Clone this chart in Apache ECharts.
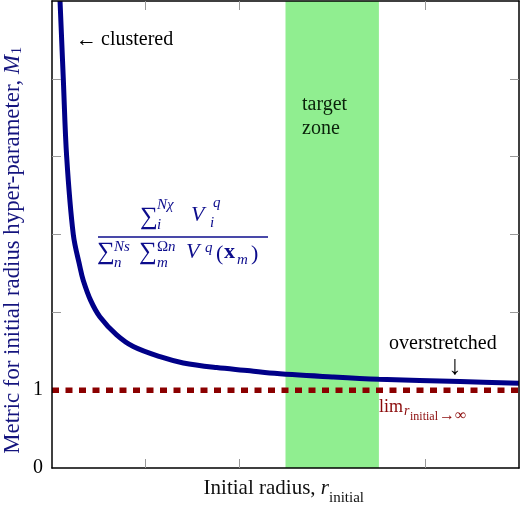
<!DOCTYPE html>
<html>
<head>
<meta charset="utf-8">
<script src="https://cdn.jsdelivr.net/npm/echarts@6/dist/echarts.min.js"></script>
<style>html,body{margin:0;padding:0;background:#fff;}#c{width:520px;height:508px;}</style>
</head>
<body>
<div id="c"></div>
<script>
// ---- data ----
const radius = [0.086, 0.121, 0.157, 0.228, 0.30, 0.335, 0.415, 0.514, 0.692, 0.87, 1.156, 1.406, 1.763, 2.12, 2.33, 3.0, 3.5, 4.37, 5.0];
const metric = [6.0, 5.0, 4.0, 3.0, 2.58, 2.41, 2.15, 1.94, 1.71, 1.56, 1.43, 1.35, 1.29, 1.25, 1.22, 1.17, 1.14, 1.11, 1.09];
const limitValue = 1;
const targetZone = [2.5, 3.5];
const xRange = [0, 5];
const yRange = [0, 6];
const xTickValues = [1, 2, 4];
const yTickValues = [2, 3, 4, 5];
const yLabelValues = [0, 1];

const SERIF = 'Liberation Serif';
const BLUE = '#000088';
const NAVY = '#14147e';
const RED = '#8b0000';
const GREEN = '#90ee90';

const curveData = radius.map((r, i) => [r, metric[i]]);
const limitData = [[xRange[0], limitValue], [xRange[1], limitValue]];

function txt(x, base, s, size, o) {
  o = o || {};
  return {
    type: 'text', x: x, y: base - 0.34 * size, z: 100,
    style: {
      text: s, fontFamily: SERIF, fontSize: size,
      fontStyle: o.it ? 'italic' : 'normal',
      fontWeight: o.b ? 'bold' : 'normal',
      fill: o.c || '#000', align: o.a || 'left', verticalAlign: 'middle'
    }
  };
}

const F = '#0c0c8c';
const LR = '#8b0a0a';
const graphics = [
  // annotations
  txt(76, 48, '←', 21),
  txt(101, 47, 'clustered', 20),
  txt(302, 112, 'target', 20, {c: '#0a220a'}),
  txt(302, 136, 'zone', 20, {c: '#0a220a'}),
  txt(389, 351, 'overstretched', 20),
  txt(455, 376, '↓', 27, {a: 'center'}),
  txt(379, 413, 'lim', 18, {c: LR}),
  txt(404, 416, 'r', 14, {it: true, c: LR}),
  txt(410, 421, 'initial', 12, {c: LR}),
  txt(439, 421, '→∞', 16, {c: LR}),
  // formula numerator
  txt(140, 226, '∑', 25, {c: F}),
  txt(157, 210, 'Nχ', 15, {it: true, c: F}),
  txt(157, 230, 'i', 15, {it: true, c: F}),
  txt(191, 223, 'V', 22, {it: true, c: F}),
  txt(213, 208, 'q', 15, {it: true, c: F}),
  txt(210, 228, 'i', 15, {it: true, c: F}),
  {type: 'line', z: 100, shape: {x1: 98, y1: 237, x2: 268, y2: 237}, style: {stroke: F, lineWidth: 1.3}},
  // formula denominator
  txt(97, 261, '∑', 25, {c: F}),
  txt(114, 252, 'Ns', 15, {it: true, c: F}),
  txt(114, 268, 'n', 15, {it: true, c: F}),
  txt(139, 261, '∑', 25, {c: F}),
  txt(157, 252, 'Ω', 15, {c: F}),
  txt(168, 252, 'n', 15, {it: true, c: F}),
  txt(157, 268, 'm', 15, {it: true, c: F}),
  txt(186, 260, 'V', 22, {it: true, c: F}),
  txt(205, 253, 'q', 15, {it: true, c: F}),
  txt(216, 262, '(', 22, {c: F}),
  txt(224, 260, 'x', 22, {b: true, c: F}),
  txt(237, 265, 'm', 15, {it: true, c: F}),
  txt(251, 262, ')', 22, {c: F}),
  // x axis title
  {
    type: 'text', x: 329, y: 496 - 0.34 * 21, z: 100,
    style: {
      text: '{a|Initial radius, }{r|r}', align: 'right', verticalAlign: 'middle',
      rich: {
        a: {fontFamily: SERIF, fontSize: 21, fill: '#111'},
        r: {fontFamily: SERIF, fontSize: 21, fontStyle: 'italic', fill: '#111'}
      }
    }
  },
  txt(329, 503, 'initial', 15, {c: '#111'}),
  // y axis title (rotated)
  {
    type: 'group', x: 13, y: 250, rotation: Math.PI / 2, z: 100,
    children: [
      {
        type: 'text', x: 195, y: 0, z: 100,
        style: {
          text: '{a|Metric for initial radius hyper-parameter, }{m|M}', align: 'right', verticalAlign: 'middle',
          rich: {
            a: {fontFamily: SERIF, fontSize: 22.8, fill: NAVY},
            m: {fontFamily: SERIF, fontSize: 22.8, fontStyle: 'italic', fill: NAVY}
          }
        }
      },
      {
        type: 'text', x: 196, y: 4, z: 100,
        style: {text: '1', fontFamily: SERIF, fontSize: 14, fill: NAVY, align: 'left', verticalAlign: 'middle'}
      }
    ]
  }
];

const axisLineStyle = {color: '#000', width: 1.5};
const tickStyle = {color: '#999', width: 1};

function xAxisDef(pos) {
  return {
    type: 'value', position: pos, min: xRange[0], max: xRange[1], interval: 1, z: 5,
    axisLine: {show: true, onZero: false, lineStyle: axisLineStyle},
    axisTick: {show: true, inside: true, length: 9, lineStyle: tickStyle, customValues: xTickValues},
    axisLabel: {show: false},
    splitLine: {show: false}
  };
}
function yAxisDef(pos, labels) {
  return {
    type: 'value', position: pos, min: yRange[0], max: yRange[1], interval: 1, z: 5,
    axisLine: {show: true, onZero: false, lineStyle: axisLineStyle},
    axisTick: {show: true, inside: true, length: 9, lineStyle: tickStyle, customValues: yTickValues},
    axisLabel: labels ? {
      show: true, margin: 9, fontFamily: SERIF, fontSize: 20, color: '#000',
      customValues: yLabelValues,
      formatter: v => (yLabelValues.indexOf(v) >= 0 ? String(v) : '')
    } : {show: false},
    splitLine: {show: false}
  };
}

const chart = echarts.init(document.getElementById('c'), null, {renderer: 'canvas'});
chart.setOption({
  animation: false,
  backgroundColor: '#fff',
  grid: {left: 52, right: 1, top: 1, bottom: 40, containLabel: false},
  xAxis: [xAxisDef('bottom'), xAxisDef('top')],
  yAxis: [yAxisDef('left', true), yAxisDef('right', false)],
  series: [
    {
      type: 'line', data: [], z: 1, silent: true,
      markArea: {
        silent: true,
        itemStyle: {color: GREEN, opacity: 1},
        data: [[{xAxis: targetZone[0]}, {xAxis: targetZone[1]}]]
      }
    },
    {
      type: 'line', data: limitData, z: 2, symbol: 'none', silent: true,
      lineStyle: {color: RED, width: 5.5, type: [7, 6.5]}
    },
    {
      type: 'line', data: curveData, z: 3, symbol: 'none', smooth: 0.35, silent: true,
      lineStyle: {color: BLUE, width: 5}
    }
  ],
  graphic: {elements: graphics}
});
</script>
</body>
</html>
